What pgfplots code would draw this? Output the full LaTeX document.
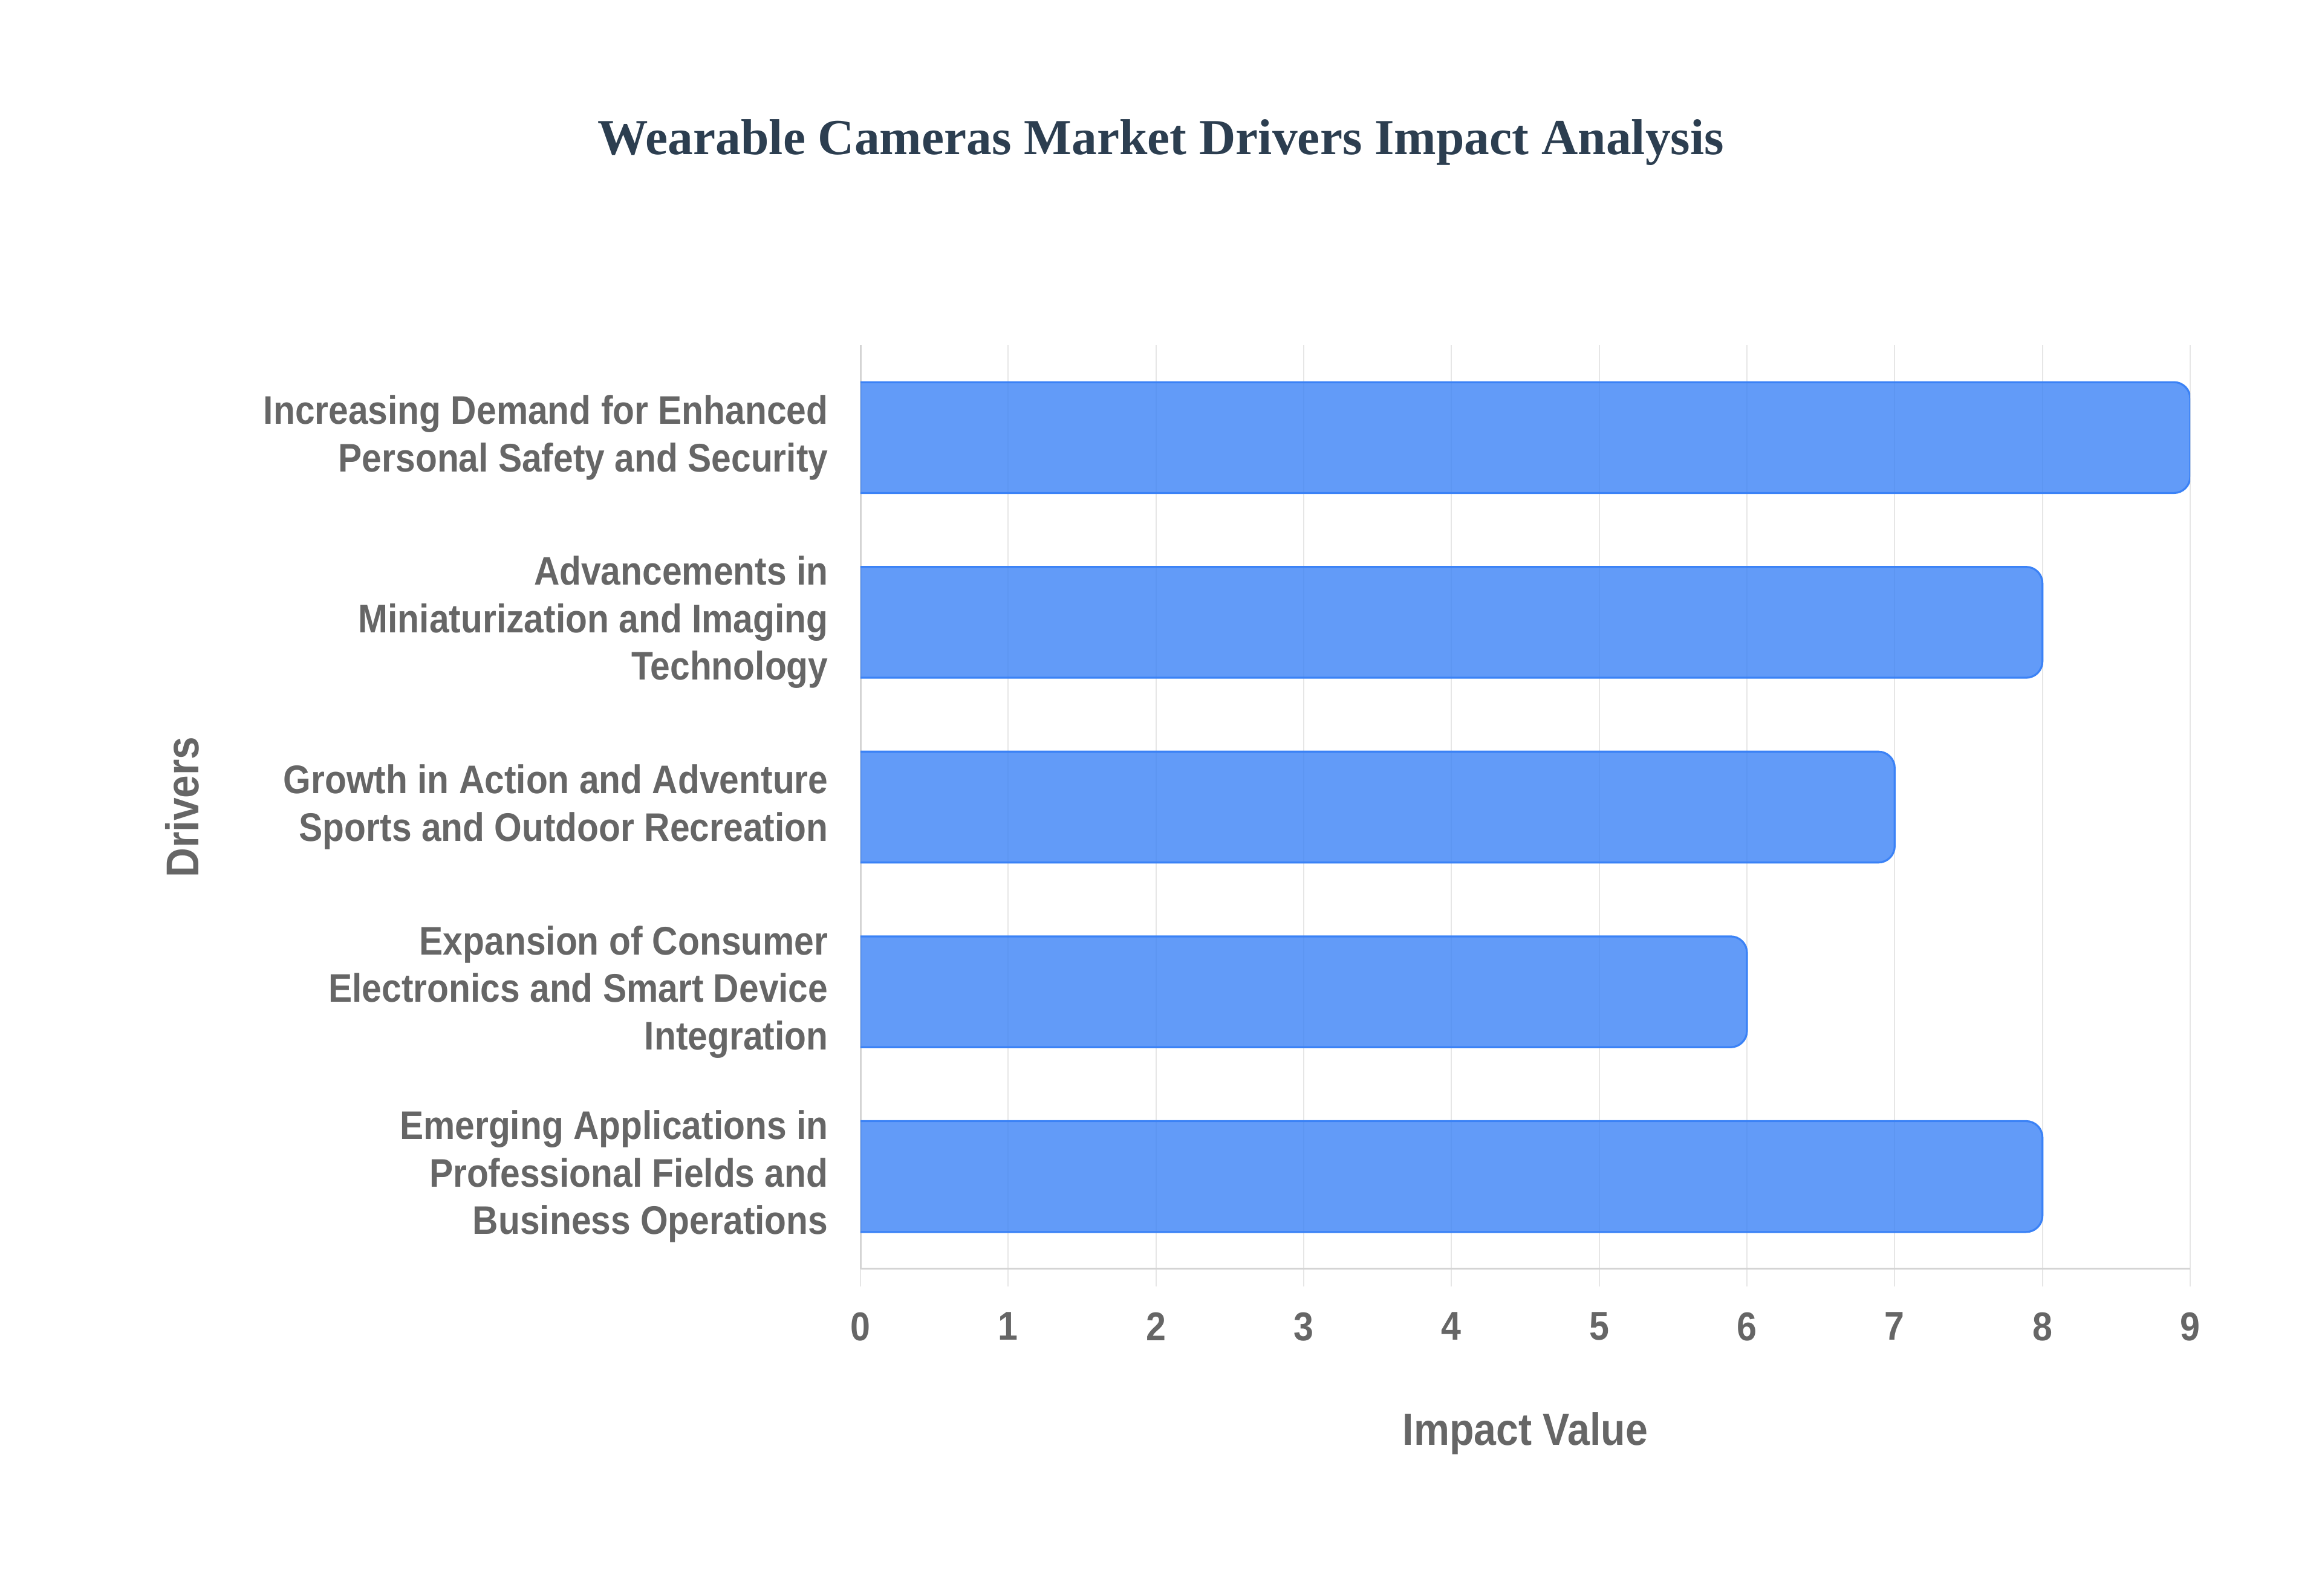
\documentclass[border=0pt]{standalone}
\usepackage{fontspec}
\setmainfont{Liberation Sans}[FakeStretch=0.89]
\newfontfamily\titlefont{Liberation Serif}
\usepackage{pgfplots}
\pgfplotsset{compat=1.18}
\definecolor{txtgray}{HTML}{666666}
\definecolor{titlecol}{HTML}{2C3E50}
\definecolor{gridgray}{HTML}{E6E6E6}
\definecolor{axgray}{HTML}{D4D4D4}
\definecolor{barblue}{HTML}{3B82F6}
\begin{document}
\begin{tikzpicture}
\path[use as bounding box] (0,0) rectangle (768bp,528bp);
\begin{axis}[
  at={(284.6bp,108.2bp)}, anchor=south west,
  scale only axis, width=439.8bp, height=305.6bp,
  xmin=0, xmax=9, ymin=-0.5, ymax=4.5,
  xtick={0,1,...,9}, ytick={0,1,2,3,4},
  yticklabels={
    {Emerging Applications in\\Professional Fields and\\Business Operations},
    {Expansion of Consumer\\Electronics and Smart Device\\Integration},
    {Growth in Action and Adventure\\Sports and Outdoor Recreation},
    {Advancements in\\Miniaturization and Imaging\\Technology},
    {Increasing Demand for Enhanced\\Personal Safety and Security}},
  axis lines*=left,
  axis line style={draw=axgray, line width=0.6bp},
  xmajorgrids,
  grid style={draw=gridgray, line width=0.45bp},
  tick align=outside,
  major tick length=5.8bp,
  xtick style={draw=gridgray, line width=0.45bp},
  ytick style={draw=none},
  /pgf/number format/assume math mode=true,
  xticklabel style={font=\fontsize{13.3bp}{15.7bp}\selectfont\bfseries, text=txtgray, yshift=-5bp},
  yticklabel style={font=\fontsize{13.2bp}{15.7bp}\selectfont\bfseries, text=txtgray, align=right, xshift=-1.4bp},
  xlabel={Impact Value},
  ylabel={Drivers},
  xlabel style={at={(axis description cs:0.5,-0.178)}, anchor=center, font=\fontsize{14.9bp}{17bp}\selectfont\bfseries, text=txtgray},
  ylabel style={at={(axis description cs:-0.5102,0.5)}, anchor=center, font=\fontsize{15.2bp}{17bp}\selectfont\bfseries, text=txtgray},
  title={Wearable Cameras Market Drivers Impact Analysis},
  title style={at={(axis description cs:0.226,1.2245)}, anchor=center, yshift=-7.5bp, font=\titlefont\fontsize{16.7bp}{20bp}\selectfont\bfseries, text=titlecol},
  bar/.style={draw=barblue, line width=0.65bp, fill=barblue, fill opacity=0.8, draw opacity=1, rounded corners=5.4bp, mark=none, forget plot},
]
% Increasing Demand ... : 9
\addplot[bar] coordinates {(-0.5,3.7) (9,3.7) (9,4.3) (-0.5,4.3) (-0.5,3.7)};
% Advancements ... : 8
\addplot[bar] coordinates {(-0.5,2.7) (8,2.7) (8,3.3) (-0.5,3.3) (-0.5,2.7)};
% Growth ... : 7
\addplot[bar] coordinates {(-0.5,1.7) (7,1.7) (7,2.3) (-0.5,2.3) (-0.5,1.7)};
% Expansion ... : 6
\addplot[bar] coordinates {(-0.5,0.7) (6,0.7) (6,1.3) (-0.5,1.3) (-0.5,0.7)};
% Emerging ... : 8
\addplot[bar] coordinates {(-0.5,-0.3) (8,-0.3) (8,0.3) (-0.5,0.3) (-0.5,-0.3)};
\end{axis}
\end{tikzpicture}
\end{document}
